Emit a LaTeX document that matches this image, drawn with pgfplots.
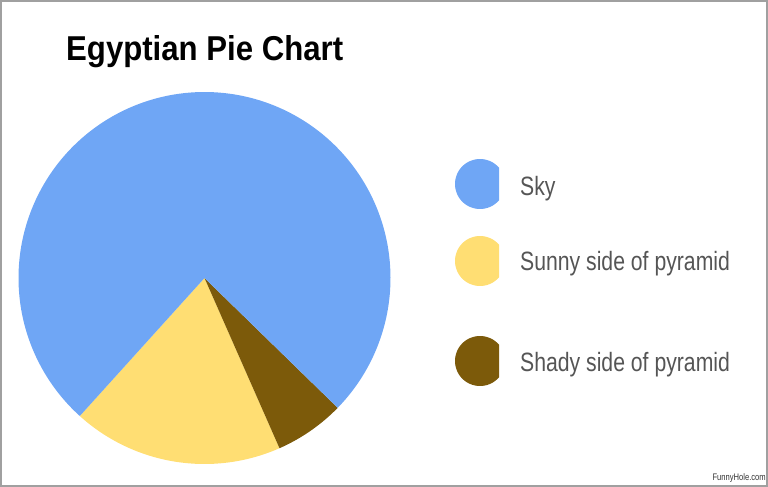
\documentclass[border=0pt]{standalone}
\usepackage{pgfplots}
\pgfplotsset{compat=1.18}
\usepackage{pgfplotstable}
\usepackage{fontspec}
\setmainfont{Liberation Sans}
\newfontfamily\titlefont[FakeStretch=0.903]{Liberation Sans}
\newfontfamily\legfont[FakeStretch=0.80]{Liberation Sans}
\definecolor{skyc}{HTML}{6FA6F5}
\definecolor{sunnyc}{HTML}{FFDE73}
\definecolor{shadyc}{HTML}{7C5A0A}
\definecolor{legtext}{HTML}{555555}
\definecolor{framec}{HTML}{A0A0A0}

\pgfplotstableread{
name  value
Sunny 18.3
Shady 6.1
Sky   75.6
}\piedata

\begin{document}%
\begin{tikzpicture}
\pgfplotstablegetelem{0}{value}\of\piedata \let\vA\pgfplotsretval
\pgfplotstablegetelem{1}{value}\of\piedata \let\vB\pgfplotsretval
\pgfplotstablegetelem{2}{value}\of\piedata \let\vC\pgfplotsretval
\pgfmathsetmacro\aA{227.9}
\pgfmathsetmacro\aB{\aA+3.6*\vA}
\pgfmathsetmacro\aC{\aB+3.6*\vB}
\pgfmathsetmacro\aD{\aC+3.6*\vC}
\def\cx{204.5}
\def\cy{278}
\def\rr{186}
\begin{axis}[
  width=768bp, height=487bp, scale only axis,
  xmin=0, xmax=768, ymin=0, ymax=487, y dir=reverse,
  hide axis, clip=false,
]
\path (axis cs:0,0) rectangle (axis cs:768,487);
% pie slices
\addplot[fill=sunnyc, draw=none, domain=\aA:\aB, samples=80]
  ({\cx+\rr*cos(x)},{\cy-\rr*sin(x)}) -- (axis cs:\cx,\cy) -- cycle;
\addplot[fill=shadyc, draw=none, domain=\aB:\aC, samples=40]
  ({\cx+\rr*cos(x)},{\cy-\rr*sin(x)}) -- (axis cs:\cx,\cy) -- cycle;
\addplot[fill=skyc, draw=none, domain=\aC:\aD, samples=240]
  ({\cx+\rr*cos(x)},{\cy-\rr*sin(x)}) -- (axis cs:\cx,\cy) -- cycle;
% legend markers (circles clipped on the right)
\addplot[fill=skyc, draw=none, domain=40.5:319.5, samples=60]
  ({480+25*cos(x)},{184-25*sin(x)}) -- cycle;
\addplot[fill=sunnyc, draw=none, domain=40.5:319.5, samples=60]
  ({480+25*cos(x)},{261-25*sin(x)}) -- cycle;
\addplot[fill=shadyc, draw=none, domain=40.5:319.5, samples=60]
  ({480+25*cos(x)},{361-25*sin(x)}) -- cycle;
% texts
\node[anchor=base west, inner sep=0pt] at (axis cs:66,61)
  {\titlefont\bfseries\fontsize{34.5bp}{40bp}\selectfont Egyptian Pie Chart};
\node[anchor=base west, inner sep=0pt, text=legtext] at (axis cs:520,195)
  {\legfont\fontsize{26.5bp}{30bp}\selectfont Sky};
\node[anchor=base west, inner sep=0pt, text=legtext] at (axis cs:520,270)
  {\legfont\fontsize{26.5bp}{30bp}\selectfont Sunny side of pyramid};
\node[anchor=base west, inner sep=0pt, text=legtext] at (axis cs:520,371)
  {\legfont\fontsize{26.5bp}{30bp}\selectfont Shady side of pyramid};
\node[anchor=base east, inner sep=0pt, text=black!80] at (axis cs:766,480)
  {\legfont\fontsize{9.5bp}{11bp}\selectfont FunnyHole.com};
% frame
\draw[framec, line width=2bp] (axis cs:1,1) rectangle (axis cs:767,486);
\end{axis}
\end{tikzpicture}%
\end{document}
